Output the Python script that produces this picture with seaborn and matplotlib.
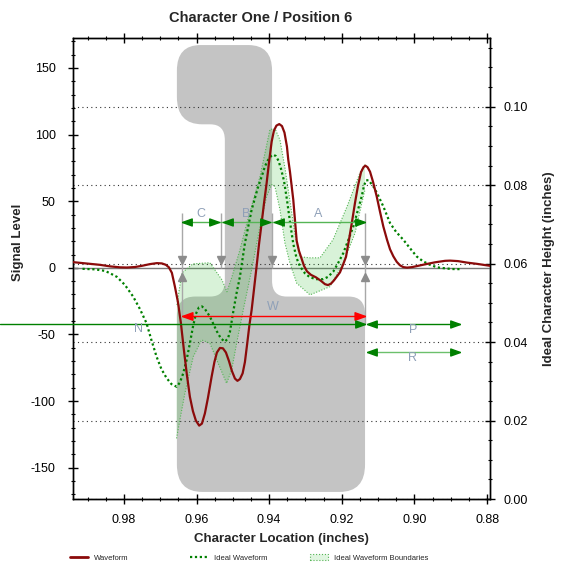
import numpy as np
import pandas as pd
import matplotlib
matplotlib.use("Agg")
import matplotlib.pyplot as plt
import seaborn as sns
from matplotlib.path import Path
from matplotlib.patches import PathPatch, Patch
from matplotlib.lines import Line2D
from matplotlib.ticker import MultipleLocator, FormatStrFormatter

# ---------------- data ----------------
title = "Character One / Position 6"
x_label = "Character Location (inches)"
y_label = "Signal Level"
y2_label = "Ideal Character Height (inches)"

wave_x = [0.99405, 0.98937, 0.98661, 0.98386, 0.98110, 0.97917, 0.97697, 0.97504, 0.97284,
          0.97091, 0.96953, 0.96843, 0.96760, 0.96678, 0.96595, 0.96512, 0.96430, 0.96347,
          0.96264, 0.96182, 0.96099, 0.96017, 0.95926, 0.95851, 0.95769, 0.95686, 0.95584,
          0.95507, 0.95438, 0.95355, 0.95273, 0.95190, 0.95107, 0.95025, 0.94942, 0.94873,
          0.94804, 0.94730, 0.94667, 0.94603, 0.94543, 0.94482, 0.94419, 0.94344, 0.94281,
          0.94207, 0.94143, 0.94069, 0.94005, 0.93931, 0.93868, 0.93799, 0.93722, 0.93647,
          0.93578, 0.93510, 0.93474, 0.93427, 0.93336, 0.93242, 0.93179, 0.93105, 0.93041,
          0.92959, 0.92849, 0.92711, 0.92573, 0.92463, 0.92380, 0.92298, 0.92215, 0.92132,
          0.92050, 0.91967, 0.91884, 0.91802, 0.91719, 0.91636, 0.91554, 0.91471, 0.91402,
          0.91353, 0.91292, 0.91223, 0.91141, 0.91039, 0.90948, 0.90857, 0.90755, 0.90672,
          0.90581, 0.90488, 0.90397, 0.90306, 0.90204, 0.90066, 0.89901, 0.89708, 0.89433,
          0.89157, 0.89019, 0.88799, 0.88551, 0.88284, 0.87917]
wave_y = [4.29, 3.01, 2.26, 1.13, 0.38, 0.23, 0.60, 1.50, 2.78,
          3.53, 3.31, 2.26, 0.38, -3.76, -14.06, -25.56, -41.35, -61.65,
          -80.45, -96.77, -107.52, -114.66, -118.42, -116.92, -109.25, -97.74, -81.73,
          -70.68, -63.53, -60.15, -60.38, -63.53, -69.92, -77.44, -83.08, -84.81,
          -83.46, -79.17, -70.68, -56.62, -42.86, -31.58, -16.54, 1.50, 17.29,
          33.61, 48.12, 63.68, 78.95, 94.74, 103.01, 106.77, 107.89, 106.39,
          101.50, 90.98, 81.20, 72.18, 51.13, 20.30, 12.78, 6.77, 1.50,
          -2.63, -5.26, -7.14, -9.77, -12.26, -12.93, -11.88, -9.40, -6.39,
          -3.38, 2.26, 8.27, 21.05, 34.59, 48.87, 61.65, 71.80, 75.56,
          76.69, 75.56, 72.18, 64.66, 53.61, 42.11, 31.05, 21.05, 13.91,
          8.65, 4.51, 1.88, 0.53, 0.15, 0.53, 1.50, 2.63, 4.14,
          5.26, 5.41, 5.04, 3.91, 3.01, 1.50]

ideal_x = [0.99138, 0.98799, 0.98523, 0.98386, 0.98193, 0.97972, 0.97744, 0.97559, 0.97375,
           0.97242, 0.97099, 0.96967, 0.96824, 0.96691, 0.96548, 0.96457, 0.96366, 0.96273,
           0.96182, 0.96099, 0.96017, 0.95934, 0.95851, 0.95769, 0.95631, 0.95446, 0.95328,
           0.95218, 0.95135, 0.95080, 0.94989, 0.94901, 0.94804, 0.94667, 0.94482, 0.94300,
           0.94198, 0.94116, 0.94033, 0.93950, 0.93887, 0.93813, 0.93744, 0.93675, 0.93592,
           0.93510, 0.93427, 0.93336, 0.93248, 0.93152, 0.93014, 0.92876, 0.92697, 0.92510,
           0.92380, 0.92234, 0.92105, 0.91959, 0.91829, 0.91683, 0.91554, 0.91452, 0.91388,
           0.91333, 0.91264, 0.91132, 0.91003, 0.90857, 0.90672, 0.90507, 0.90306, 0.90121,
           0.89937, 0.89763, 0.89570, 0.89377, 0.89204, 0.88964, 0.88744]
ideal_y = [-0.75, -1.13, -2.26, -3.98, -6.77, -12.78, -21.58, -30.83, -41.58,
           -54.14, -66.69, -75.94, -82.71, -87.22, -89.25, -86.09, -79.17, -69.17,
           -56.62, -44.36, -34.59, -29.70, -28.95, -30.83, -36.62, -47.37, -53.01,
           -55.41, -53.01, -48.12, -33.08, -19.55, -6.54, 18.57, 43.61, 61.13,
           69.17, 76.17, 80.83, 83.83, 84.96, 83.83, 80.45, 74.44, 65.41,
           51.13, 34.59, 18.05, 7.52, 1.13, -4.14, -7.14, -8.50, -8.50,
           -6.77, -2.78, 3.38, 11.05, 20.30, 31.05, 43.61, 53.61, 61.65,
           65.64, 65.79, 61.13, 54.51, 46.09, 33.61, 27.07, 21.05, 14.66,
           8.50, 4.89, 2.26, 0.38, -0.23, -0.90, -0.98]

upper_x = [0.96540, 0.96402, 0.96099, 0.95631, 0.95300, 0.95163, 0.95025, 0.94804, 0.94612,
           0.94253, 0.93978, 0.93840, 0.93702, 0.93565, 0.93427, 0.93289, 0.93151, 0.92876,
           0.92601, 0.92242, 0.91857, 0.91499, 0.91361]
upper_y = [-27.8, -3.8, 3.0, 3.8, -9.0, -18.0, -6.8, 13.5, 33.8,
           68.4, 103.8, 104.5, 96.0, 75.0, 50.0, 25.0, 8.3, 7.5,
           7.5, 21.1, 45.9, 71.4, 77.4]

lower_x = [0.96549, 0.96457, 0.96320, 0.96090, 0.95860, 0.95631, 0.95402, 0.95171, 0.95033,
           0.94895, 0.94713, 0.94482, 0.94253, 0.94069, 0.93931, 0.93840, 0.93702, 0.93565,
           0.93427, 0.93242, 0.92876, 0.92325, 0.91959, 0.91636, 0.91407, 0.91361]
lower_y = [-128.0, -114.0, -94.2, -66.7, -54.1, -56.6, -71.7, -86.7, -76.7,
           -56.6, -31.6, -1.5, 31.1, 53.6, 62.4, 61.1, 43.6, 18.6,
           3.5, -11.5, -20.3, -14.1, 3.5, 26.1, 53.6, 58.6]

# character outline corners (inches) and corner radii (inches)
char_x = [0.9654, 0.9392, 0.9392, 0.9136, 0.9136, 0.9654, 0.9654, 0.9522, 0.9522, 0.9654]
char_h = [0.1157, 0.1157, 0.0516, 0.0516, 0.0018, 0.0018, 0.0516, 0.0516, 0.0955, 0.0955]
char_r = [0.0065, 0.0065, 0.0040, 0.0045, 0.0070, 0.0070, 0.0050, 0.0040, 0.0040, 0.0070]

# measurement positions
meas_x = [0.96394, 0.95328, 0.93915, 0.91361]   # C left, C/B, B/A, A right
meas_top = 41.4
cba_level = 34.1
cba_labels = ["C", "B", "A"]
cba_label_x = [0.95879, 0.94620, 0.92647]
w_level = -35.8
n_level = -42.4
r_level = -62.9
pr_end = 0.88744
pr_start = 0.91306
fig_left_x = 1.01416
letter_pos = {"N": (0.97587, -45.9), "W": (0.93887, -29.1),
              "P": (0.90047, -46.6), "R": (0.90047, -67.9)}

# ---------------- style ----------------
sns.set_style("ticks")
plt.rcParams["font.family"] = ["Liberation Sans", "DejaVu Sans"]
plt.rcParams["axes.unicode_minus"] = False

RED = "#8B0B0B"
GREEN = "#008000"
LGREEN = "#55B555"
FILL = (0.24, 0.75, 0.24, 0.2)
GRAY = "#C4C4C4"
DIMGRAY = "#A8A8A8"
TRI = "#8C8C8C"
LETTER = "#8FA0B8"

fig = plt.figure(figsize=(5.63, 5.73), dpi=100)
ax1 = fig.add_axes([73 / 563, 1 - 499 / 573, (490 - 73) / 563, (499 - 38) / 573])
ax2 = ax1.twinx()
ax1.set_zorder(ax2.get_zorder() + 1)
ax1.patch.set_visible(False)
ax2.set_axisbelow(False)

ax1.set_xlim(0.9940, 0.8792)
ax1.set_ylim(-173.5, 172.5)
ax2.set_ylim(0, 0.1175)


def rounded_path(xs, ys, rs):
    n = len(xs)
    verts, codes = [], []
    for i in range(n):
        c = np.array([xs[i], ys[i]])
        p = np.array([xs[i - 1], ys[i - 1]])
        q = np.array([xs[(i + 1) % n], ys[(i + 1) % n]])
        a = c + rs[i] * (p - c) / np.linalg.norm(p - c)
        b = c + rs[i] * (q - c) / np.linalg.norm(q - c)
        verts += [a, c, b]
        codes += [Path.LINETO if i else Path.MOVETO, Path.CURVE3, Path.CURVE3]
    verts.append(verts[0])
    codes.append(Path.CLOSEPOLY)
    return Path(verts, codes)


ax2.add_patch(PathPatch(rounded_path(char_x, char_h, char_r), facecolor=GRAY,
                        edgecolor="none", zorder=1))
ax2.yaxis.grid(True, which="major", linestyle=(0, (1, 3)), color="#333333", lw=0.8)

# baseline
ax1.axhline(0, color="#7A7A7A", lw=1.0, zorder=2)

# boundary band
ax1.fill(np.r_[upper_x, lower_x[::-1]], np.r_[upper_y, lower_y[::-1]],
         facecolor=FILL, edgecolor="none", zorder=2)
ax1.plot(upper_x, upper_y, color=LGREEN, lw=0.8, ls=(0, (1, 1.5)), zorder=3)
ax1.plot(lower_x, lower_y, color=LGREEN, lw=0.8, ls=(0, (1, 1.5)), zorder=3)

df_ideal = pd.DataFrame({"x": ideal_x, "y": ideal_y})
df_wave = pd.DataFrame({"x": wave_x, "y": wave_y})
sns.lineplot(data=df_ideal, x="x", y="y", ax=ax1, color=GREEN, lw=1.6,
             linestyle=(0, (1, 1.2)), sort=False, zorder=4)
sns.lineplot(data=df_wave, x="x", y="y", ax=ax1, color=RED, lw=1.6, sort=False, zorder=5)

# measurement verticals
ax1.vlines([meas_x[0]], w_level, meas_top, color=DIMGRAY, lw=1, zorder=6)
ax1.vlines(meas_x[1:3], 0, meas_top, color=DIMGRAY, lw=1, zorder=6)
ax1.vlines([meas_x[3]], n_level, meas_top, color=DIMGRAY, lw=1, zorder=6)
ax1.plot(meas_x, [5.8] * 4, ls="none", marker="v", ms=6, color=TRI, zorder=7)
ax1.plot([meas_x[0], meas_x[3]], [-6.8] * 2, ls="none", marker="^", ms=6, color=TRI, zorder=7)

RH = [(0, 0), (-1, 0.36), (-1, -0.36), (0, 0)]
LH = [(0, 0), (1, 0.36), (1, -0.36), (0, 0)]
gap = 0.00055

# C / B / A arrows
ax1.hlines(cba_level, meas_x[3], meas_x[0], color=LGREEN, lw=1, zorder=6)
for i in range(3):
    ax1.plot([meas_x[i] - gap * (i > 0)], [cba_level], marker=LH, ms=14, color=GREEN, ls="none", zorder=7)
    ax1.plot([meas_x[i + 1] + gap * (i < 2)], [cba_level], marker=RH, ms=14, color=GREEN, ls="none", zorder=7)
    ax1.text(cba_label_x[i], cba_level + 6.5, cba_labels[i], color=LETTER, fontsize=9,
             ha="center", va="center", zorder=8)

# W arrow
ax1.hlines(w_level, meas_x[3], meas_x[0], color="#FF0000", lw=1, zorder=6)
ax1.plot([meas_x[0]], [w_level], marker=LH, ms=15, color="#FF0000", ls="none", zorder=7)
ax1.plot([meas_x[3]], [w_level], marker=RH, ms=15, color="#FF0000", ls="none", zorder=7)

# N threshold line and P / R arrows
ax1.plot([fig_left_x, meas_x[3]], [n_level, n_level], color=GREEN, lw=1, clip_on=False, zorder=6)
ax1.plot([meas_x[3]], [n_level], marker=RH, ms=14, color=GREEN, ls="none", zorder=7)
ax1.hlines(n_level, pr_start, pr_end, color=GREEN, lw=1, zorder=6)
ax1.hlines(r_level, pr_start, pr_end, color="#6CC06C", lw=1, zorder=6)
ax1.plot([pr_start, pr_start], [n_level, r_level], marker=LH, ms=14, color=GREEN, ls="none", zorder=7)
ax1.plot([pr_end, pr_end], [n_level, r_level], marker=RH, ms=14, color=GREEN, ls="none", zorder=7)

for k, (lx, ly) in letter_pos.items():
    ax1.text(lx, ly, k, color=LETTER, fontsize=9, ha="center", va="center", zorder=8)

# axes formatting
ax1.xaxis.set_major_locator(MultipleLocator(0.02))
ax1.xaxis.set_minor_locator(MultipleLocator(0.005))
ax1.xaxis.set_major_formatter(FormatStrFormatter("%.2f"))
ax1.yaxis.set_major_locator(MultipleLocator(50))
ax1.yaxis.set_minor_locator(MultipleLocator(10))
ax2.yaxis.set_major_locator(MultipleLocator(0.02))
ax2.yaxis.set_minor_locator(MultipleLocator(0.005))
ax2.yaxis.set_major_formatter(FormatStrFormatter("%.2f"))

for ax in (ax1, ax2):
    ax.tick_params(which="major", direction="inout", length=7, width=1, labelsize=9,
                   colors="black", pad=3)
    ax.tick_params(which="minor", direction="inout", length=3.5, width=0.8, colors="black")
    for s in ax.spines.values():
        s.set_color("black")
        s.set_linewidth(1)
ax1.tick_params(axis="x", which="both", top=True)
ax1.tick_params(axis="x", which="major", pad=7)
ax1.tick_params(axis="y", pad=9)
ax2.tick_params(axis="y", pad=6)

ax1.set_xlabel(x_label, fontsize=9.5, fontweight="bold", labelpad=5)
ax1.set_ylabel("")
ax2.set_ylabel(y2_label, fontsize=9.5, fontweight="bold", labelpad=11)
fig.text(18 / 563, 1 - 242 / 573, y_label, rotation=90, fontsize=9.5, fontweight="bold",
         ha="center", va="center")
fig.text(260.7 / 563, 1 - 18 / 573, title, fontsize=10.5, fontweight="bold",
         ha="center", va="center")

# legend
handles = [Line2D([], [], color=RED, lw=2),
           Line2D([], [], color=GREEN, lw=1.6, ls=(0, (1, 1.2))),
           Patch(facecolor=(0.88, 0.96, 0.88), edgecolor=LGREEN, linestyle=":", lw=0.8)]
labels = ["Waveform", "Ideal Waveform", "Ideal Waveform Boundaries"]
for i, (h, l) in enumerate(zip(handles, labels)):
    fig.legend([h], [l], loc="center left", bbox_to_anchor=((70 + 120 * i) / 563, 1 - 558 / 573),
               frameon=False, fontsize=5.5, handlelength=2.4, handletextpad=0.7,
               borderpad=0, borderaxespad=0, handleheight=0.9)

fig.savefig("out.png", dpi=100)
